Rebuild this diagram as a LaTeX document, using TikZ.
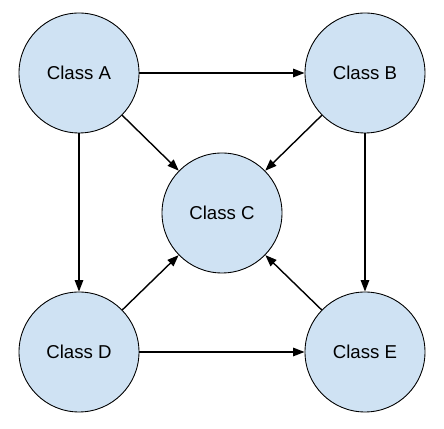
\documentclass[tikz,border=0pt]{standalone}
\usepackage{fontspec}
\setmainfont{Liberation Sans}
\usetikzlibrary{positioning,arrows.meta}
\definecolor{classfill}{HTML}{CFE2F3}
\begin{document}
\begin{tikzpicture}[
      every node/.style={font=\fontsize{10.6}{12}\selectfont},
      class/.style={circle,draw=black,line width=0.5pt,fill=classfill,minimum size=2.4cm,inner sep=0mm},
      link/.style={-{Triangle[length=2.3mm,width=1.7mm]},line width=0.8pt}]
      \useasboundingbox (0,0) rectangle (8.88,-8.58);

      \node[class] (classA) at (1.58,-1.46) {Class A};
      \node[class] (classB) at (7.30,-1.46) {Class B};
      \node[class] (classC) at (4.44,-4.26) {Class C};
      \node[class] (classD) at (1.58,-7.04) {Class D};
      \node[class] (classE) at (7.30,-7.04) {Class E};

      % outer square
      \draw[link] (classA) -- (classB);
      \draw[link] (classA) -- (classD);
      \draw[link] (classB) -- (classE);
      \draw[link] (classD) -- (classE);
      % into the centre
      \draw[link] (classA) -- (classC);
      \draw[link] (classB) -- (classC);
      \draw[link] (classD) -- (classC);
      \draw[link] (classE) -- (classC);
\end{tikzpicture}
\end{document}
